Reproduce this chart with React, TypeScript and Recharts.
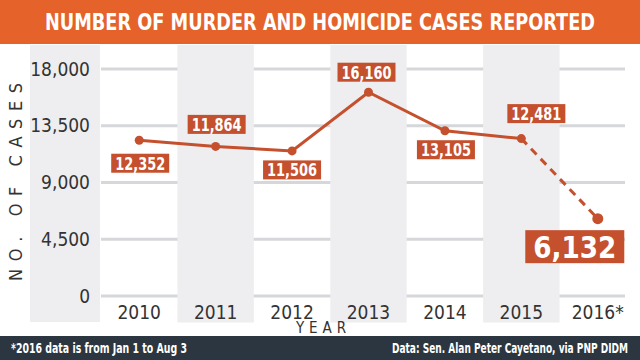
import { ComposedChart, Line, XAxis, YAxis, CartesianGrid, ReferenceArea, LabelList } from 'recharts';

const years = ['2010', '2011', '2012', '2013', '2014', '2015', '2016*'];
const cases = [12352, 11864, 11506, 16160, 13105, 12481, 6132];
const yTicks = [0, 4500, 9000, 13500, 18000];
const shadedYears = ['2011', '2013', '2015'];
const partialYear = '2016*';

const data = years.map((year, i) => ({
  year,
  reported: year === partialYear ? null : cases[i],
  partial: i >= years.length - 2 ? cases[i] : null,
}));

// where each value box sits relative to its point
const labelOffsets: Record<string, [number, number]> = {
  '2010': [1, 23],
  '2011': [1, -22],
  '2012': [0, 19],
  '2013': [-2, -20],
  '2014': [1, 19],
  '2015': [15, -25],
  '2016*': [-23, 28],
};

const RED = '#c4502e';
const FONT = "'DejaVu Sans Condensed', 'DejaVu Sans', sans-serif";
const fmt = (v: number) => v.toLocaleString('en-US');

function ValueBox(props: any) {
  const { x, y, value, index } = props;
  if (value == null) return null;
  const year = years[index];
  const big = year === partialYear;
  const [dx, dy] = labelOffsets[year];
  const w = big ? 99 : 58;
  const h = big ? 33 : 19;
  const fs = big ? 31 : 18;
  const cx = x + dx;
  const cy = y + dy;
  return (
    <g>
      <rect x={cx - w / 2} y={cy - h / 2} width={w} height={h} fill={RED} />
      <text
        x={cx}
        y={cy + fs * 0.36}
        textAnchor="middle"
        fill="#fff"
        fontSize={fs}
        fontWeight="bold"
        fontFamily={FONT}
        textLength={w - (big ? 16 : 8)}
        lengthAdjust="spacingAndGlyphs"
      >
        {fmt(value)}
      </text>
    </g>
  );
}

function PartialLabel(props: any) {
  if (years[props.index] !== partialYear) return null;
  return <ValueBox {...props} />;
}

function PartialDot(props: any) {
  const { cx, cy, index } = props;
  if (years[index] !== partialYear) return <g key={index} />;
  return <circle key={index} cx={cx} cy={cy} r={5.5} fill={RED} />;
}

export default function App() {
  return (
    <div style={{ position: 'absolute', left: 0, top: 0, width: 640, height: 360, background: '#fff', overflow: 'hidden' }}>
      <div style={{ position: 'absolute', left: 30, top: 45, width: 70, height: 277, background: '#eeeef0' }} />
      <div style={{ position: 'absolute', left: 0, top: 0 }}>
        <ComposedChart width={640} height={360} data={data} margin={{ top: 69, right: 15, bottom: 34, left: 0 }}>
          {shadedYears.map((y) => (
            <ReferenceArea
              key={y}
              x1={y}
              x2={y}
              y1={-2100}
              y2={19900}
              ifOverflow="visible"
              fill="#eeeef0"
              fillOpacity={1}
              stroke="none"
            />
          ))}
          <CartesianGrid vertical={false} stroke="#d6d7da" strokeWidth={3} />
          <XAxis
            dataKey="year"
            scale="band"
            height={30}
            interval={0}
            axisLine={false}
            tickLine={false}
            tickSize={0}
            tickMargin={10}
            padding={{ left: 0, right: -11 }}
            tick={{ fill: '#333', fontSize: 19, fontFamily: FONT }}
          />
          <YAxis
            domain={[0, 18000]}
            ticks={yTicks}
            width={101}
            axisLine={false}
            tickLine={false}
            tickSize={0}
            tickMargin={11}
            tickFormatter={fmt}
            tick={{ fill: '#333', fontSize: 19, fontFamily: FONT }}
          />
          <Line
            dataKey="reported"
            stroke={RED}
            strokeWidth={3}
            dot={{ r: 4.5, fill: RED, stroke: 'none' }}
            activeDot={false}
            isAnimationActive={false}
          >
            <LabelList dataKey="reported" content={ValueBox} />
          </Line>
          <Line
            dataKey="partial"
            stroke={RED}
            strokeWidth={3}
            strokeDasharray="8 6"
            dot={PartialDot}
            activeDot={false}
            isAnimationActive={false}
          >
            <LabelList dataKey="partial" content={PartialLabel} />
          </Line>
        </ComposedChart>
      </div>
      <svg width={640} height={360} style={{ position: 'absolute', left: 0, top: 0, pointerEvents: 'none' }}>
        <rect x={0} y={0} width={640} height={44} fill="#e5622a" />
        <text
          x={320}
          y={30}
          textAnchor="middle"
          fill="#fff"
          fontSize={22.5}
          fontWeight="bold"
          fontFamily={FONT}
          textLength={550}
          lengthAdjust="spacingAndGlyphs"
        >
          NUMBER OF MURDER AND HOMICIDE CASES REPORTED
        </text>
        <text
          transform="translate(22,182) rotate(-90)"
          textAnchor="middle"
          fill="#333"
          fontSize={18}
          fontFamily={FONT}
          textLength={198}
          lengthAdjust="spacing"
        >
          NO. OF CASES
        </text>
        <text
          x={321}
          y={333}
          textAnchor="middle"
          fill="#333"
          fontSize={15}
          fontFamily={FONT}
          textLength={50}
          lengthAdjust="spacing"
        >
          YEAR
        </text>
        <rect x={0} y={336} width={640} height={24} fill="#2c3640" />
        <text x={11} y={353} fill="#fff" fontSize={14} fontWeight="bold" fontFamily={FONT} textLength={176} lengthAdjust="spacingAndGlyphs">
          *2016 data is from  Jan 1 to Aug 3
        </text>
        <text x={628} y={353} textAnchor="end" fill="#fff" fontSize={14} fontWeight="bold" fontFamily={FONT} textLength={236} lengthAdjust="spacingAndGlyphs">
          Data: Sen. Alan Peter Cayetano, via PNP DIDM
        </text>
      </svg>
    </div>
  );
}
